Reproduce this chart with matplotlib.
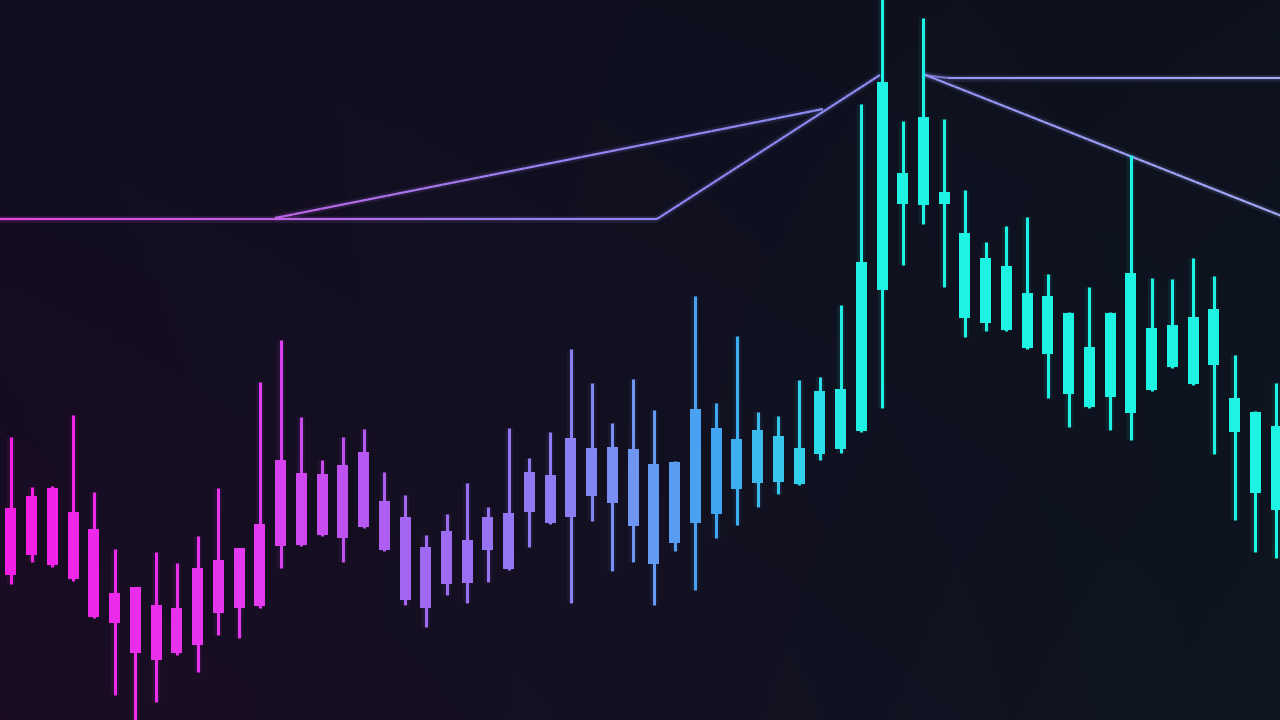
import numpy as np
import matplotlib
matplotlib.use("Agg")
import matplotlib.pyplot as plt
from matplotlib.colors import LinearSegmentedColormap
from matplotlib.collections import LineCollection

# candle data (price levels), one entry per candle
high = [283, 233, 234, 305, 228, 171, 133, 168, 157, 184, 232, 172, 338, 380, 303, 260,
        283, 291, 248, 225, 185, 206, 237, 213, 292, 262, 288, 371, 337, 297, 341, 310,
        259, 424, 317, 384, 308, 304, 340, 343, 415, 616, 725, 599, 702, 601, 530, 478,
        494, 503, 446, 408, 433, 408, 565, 442, 441, 462, 444, 365, 309, 337]
body_top = [212, 224, 232, 208, 191, 127, 133, 115, 112, 152, 160, 172, 196, 260, 247, 246,
            255, 268, 219, 203, 173, 189, 180, 203, 207, 248, 245, 282, 272, 273, 271, 256,
            258, 311, 292, 281, 290, 284, 272, 329, 331, 458, 638, 547, 603, 528, 487, 462,
            454, 427, 424, 407, 373, 407, 447, 392, 395, 403, 411, 322, 308, 294]
body_bot = [145, 165, 155, 141, 103, 97, 67, 60, 67, 75, 107, 112, 114, 174, 175, 185,
            182, 193, 170, 120, 112, 136, 137, 170, 151, 208, 197, 203, 224, 217, 194, 156,
            177, 197, 206, 231, 237, 238, 236, 266, 271, 289, 430, 516, 515, 516, 402, 397,
            390, 372, 366, 326, 313, 323, 307, 330, 353, 336, 355, 288, 227, 210]
low = [136, 158, 153, 139, 102, 25, -2, 18, 65, 48, 85, 82, 112, 152, 174, 184,
       158, 192, 169, 115, 93, 125, 117, 138, 150, 173, 196, 117, 199, 149, 158, 115,
       169, 130, 182, 195, 213, 226, 235, 260, 267, 288, 312, 455, 496, 433, 383, 389,
       389, 371, 322, 293, 312, 290, 280, 329, 352, 335, 266, 200, 168, 162]

# trend lines: (x in candle index, price)
line_a_x = [-1, 31.15, 41.9]
line_a_y = [501, 501, 645]
line_b_x = [12.73, 39.15]
line_b_y = [502, 611]
line_c_x = [43.97, 45.2, 62]
line_c_y = [645, 642, 642]
line_d_x = [43.97, 62]
line_d_y = [646, 498]

XMIN, XMAX = -0.53, 61.19
YMIN, YMAX = 0, 720

candle_cmap = LinearSegmentedColormap.from_list(
    "candles", [(0.0, "#f41ee4"), (0.2, "#e23af0"), (0.32, "#a266f2"), (0.45, "#8a80f4"),
                (0.5, "#6a98f2"), (0.56, "#40a4f2"), (0.61, "#38c6ec"), (0.65, "#26e6e6"),
                (0.68, "#1ef2e2"), (1.0, "#1ef2e2")])
line_cmap = LinearSegmentedColormap.from_list(
    "lines", [(0.0, "#e844dc"), (0.2, "#c060e4"), (0.4, "#9a80f0"), (0.6, "#8c88f4"),
              (1.0, "#a4aaf6")])


def xfrac(x):
    return (np.asarray(x, dtype=float) - XMIN) / (XMAX - XMIN)


fig = plt.figure(figsize=(12.8, 7.2), dpi=100)
ax = fig.add_axes([0, 0, 1, 1])
ax.set_xlim(XMIN, XMAX)
ax.set_ylim(YMIN, YMAX)
ax.axis("off")

# dark background with a faint purple tint on the lower left
tl = np.array([17, 14, 32]) / 255
bl = np.array([27, 12, 36]) / 255
tr = np.array([13, 18, 30]) / 255
br = np.array([13, 22, 32]) / 255
u = np.linspace(0, 1, 256)[None, :, None]
v = np.linspace(0, 1, 144)[:, None, None]
bg = (1 - v) * ((1 - u) * tl + u * tr) + v * ((1 - u) * bl + u * br)
ax.imshow(bg, extent=(XMIN, XMAX, YMIN, YMAX), aspect="auto", zorder=0)


def draw_line(xs, ys):
    # split into short pieces so the colour follows x
    px, py = [], []
    for i in range(len(xs) - 1):
        t = np.linspace(0, 1, 60)
        px.extend(xs[i] + t * (xs[i + 1] - xs[i]))
        py.extend(ys[i] + t * (ys[i + 1] - ys[i]))
    pts = np.column_stack([px, py]).reshape(-1, 1, 2)
    segs = np.concatenate([pts[:-1], pts[1:]], axis=1)
    mids = segs[:, :, 0].mean(axis=1)
    cols = line_cmap(np.clip(xfrac(mids), 0, 1))
    glow = LineCollection(segs, colors=cols, linewidths=5, alpha=0.12, zorder=2)
    lc = LineCollection(segs, colors=cols, linewidths=1.6, zorder=3)
    ax.add_collection(glow)
    ax.add_collection(lc)


draw_line(line_a_x, line_a_y)
draw_line(line_b_x, line_b_y)
draw_line(line_c_x, line_c_y)
draw_line(line_d_x, line_d_y)

idx = np.arange(len(high))
colors = candle_cmap(np.clip(xfrac(idx), 0, 1))
width = 0.53
for i in idx:
    c = colors[i]
    # soft glow behind the candle
    ax.vlines(i, low[i], high[i], color=c, linewidth=6, alpha=0.08, zorder=4)
    ax.vlines(i, low[i], high[i], color=c, linewidth=2.2, zorder=5)
    ax.bar(i, body_top[i] - body_bot[i], bottom=body_bot[i], width=width,
           color=c, edgecolor="none", zorder=6)

fig.savefig("out.png", dpi=100)
